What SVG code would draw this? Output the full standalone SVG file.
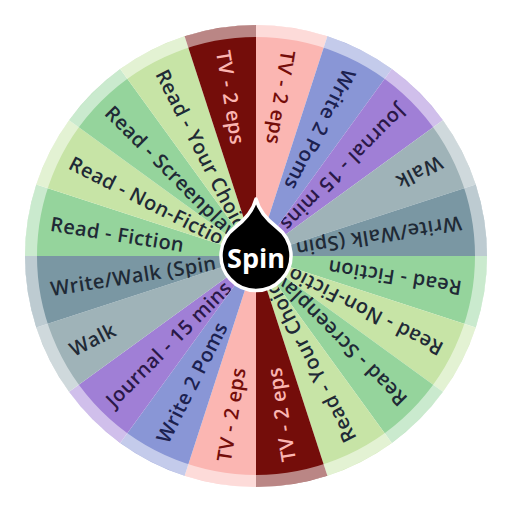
<svg xmlns="http://www.w3.org/2000/svg" xmlns:xlink="http://www.w3.org/1999/xlink" width="512" height="512" viewBox="0 0 512 512">
<style>
.t{font-family:"Open Sans","Liberation Sans",sans-serif;font-weight:600;font-size:20px;letter-spacing:0.4px;dominant-baseline:central}
.d{fill:#1f2a36}
.pk{fill:#fbb6b2}.dr{fill:#740d0a}.bl{fill:#8996d6}.pu{fill:#a07fd6}.gr{fill:#9fb3b8}.sl{fill:#7a97a3}.gn{fill:#95d49c}.lg{fill:#c7e4a6}
</style>
<defs>
<path id="w" d="M256 256 L256 25 A231 231 0 0 1 327.38 36.31 Z"/>
<clipPath id="c"><use xlink:href="#w"/></clipPath>
</defs>
<g id="wheel">
<g id="seg0" transform="rotate(0 256 256)"><use xlink:href="#w" class="pk"/><g clip-path="url(#c)"><text class="t" fill="#740d0a" x="48" y="256" transform="rotate(99 256 256)">TV - 2 eps</text></g></g>
<g id="seg1" transform="rotate(18 256 256)"><use xlink:href="#w" class="bl"/><g clip-path="url(#c)"><text class="t" fill="#1c2150" x="48" y="256" transform="rotate(99 256 256)">Write 2 Poms</text></g></g>
<g id="seg2" transform="rotate(36 256 256)"><use xlink:href="#w" class="pu"/><g clip-path="url(#c)"><text class="t" fill="#2a1848" x="48" y="256" transform="rotate(99 256 256)">Journal - 15 mins</text></g></g>
<g id="seg3" transform="rotate(54 256 256)"><use xlink:href="#w" class="gr"/><g clip-path="url(#c)"><text class="t d" x="48" y="256" transform="rotate(99 256 256)">Walk</text></g></g>
<g id="seg4" transform="rotate(72 256 256)"><use xlink:href="#w" class="sl"/><g clip-path="url(#c)"><text class="t d" x="48" y="256" transform="rotate(99 256 256)">Write/Walk (Spin</text></g></g>
<g id="seg5" transform="rotate(90 256 256)"><use xlink:href="#w" class="gn"/><g clip-path="url(#c)"><text class="t d" x="48" y="256" transform="rotate(99 256 256)">Read - Fiction</text></g></g>
<g id="seg6" transform="rotate(108 256 256)"><use xlink:href="#w" class="lg"/><g clip-path="url(#c)"><text class="t d" x="48" y="256" transform="rotate(99 256 256)">Read - Non-Fiction</text></g></g>
<g id="seg7" transform="rotate(126 256 256)"><use xlink:href="#w" class="gn"/><g clip-path="url(#c)"><text class="t d" x="48" y="256" transform="rotate(99 256 256)">Read - Screenplay</text></g></g>
<g id="seg8" transform="rotate(144 256 256)"><use xlink:href="#w" class="lg"/><g clip-path="url(#c)"><text class="t d" x="48" y="256" transform="rotate(99 256 256)">Read - Your Choice</text></g></g>
<g id="seg9" transform="rotate(162 256 256)"><use xlink:href="#w" class="dr"/><g clip-path="url(#c)"><text class="t" fill="#fbb6b2" x="48" y="256" transform="rotate(99 256 256)">TV - 2 eps</text></g></g>
<g id="seg10" transform="rotate(180 256 256)"><use xlink:href="#w" class="pk"/><g clip-path="url(#c)"><text class="t" fill="#740d0a" x="48" y="256" transform="rotate(99 256 256)">TV - 2 eps</text></g></g>
<g id="seg11" transform="rotate(198 256 256)"><use xlink:href="#w" class="bl"/><g clip-path="url(#c)"><text class="t" fill="#1c2150" x="48" y="256" transform="rotate(99 256 256)">Write 2 Poms</text></g></g>
<g id="seg12" transform="rotate(216 256 256)"><use xlink:href="#w" class="pu"/><g clip-path="url(#c)"><text class="t" fill="#2a1848" x="48" y="256" transform="rotate(99 256 256)">Journal - 15 mins</text></g></g>
<g id="seg13" transform="rotate(234 256 256)"><use xlink:href="#w" class="gr"/><g clip-path="url(#c)"><text class="t d" x="48" y="256" transform="rotate(99 256 256)">Walk</text></g></g>
<g id="seg14" transform="rotate(252 256 256)"><use xlink:href="#w" class="sl"/><g clip-path="url(#c)"><text class="t d" x="48" y="256" transform="rotate(99 256 256)">Write/Walk (Spin</text></g></g>
<g id="seg15" transform="rotate(270 256 256)"><use xlink:href="#w" class="gn"/><g clip-path="url(#c)"><text class="t d" x="48" y="256" transform="rotate(99 256 256)">Read - Fiction</text></g></g>
<g id="seg16" transform="rotate(288 256 256)"><use xlink:href="#w" class="lg"/><g clip-path="url(#c)"><text class="t d" x="48" y="256" transform="rotate(99 256 256)">Read - Non-Fiction</text></g></g>
<g id="seg17" transform="rotate(306 256 256)"><use xlink:href="#w" class="gn"/><g clip-path="url(#c)"><text class="t d" x="48" y="256" transform="rotate(99 256 256)">Read - Screenplay</text></g></g>
<g id="seg18" transform="rotate(324 256 256)"><use xlink:href="#w" class="lg"/><g clip-path="url(#c)"><text class="t d" x="48" y="256" transform="rotate(99 256 256)">Read - Your Choice</text></g></g>
<g id="seg19" transform="rotate(342 256 256)"><use xlink:href="#w" class="dr"/><g clip-path="url(#c)"><text class="t" fill="#fbb6b2" x="48" y="256" transform="rotate(99 256 256)">TV - 2 eps</text></g></g>
</g>
<circle id="rim" cx="256" cy="256" r="225" fill="none" stroke="#ffffff" stroke-opacity="0.5" stroke-width="12"/>
<g id="spin">
<path d="M256 199 C259 211 266 219 277 227.5 A35 35 0 1 1 235 227.5 C246 219 253 211 256 199 Z" fill="#000" stroke="#fff" stroke-width="3.5" stroke-linejoin="round"/>
<text x="256" y="257" text-anchor="middle" dominant-baseline="central" font-family="'Open Sans','Liberation Sans',sans-serif" font-weight="700" font-size="27" fill="#fff">Spin</text>
</g>
</svg>
